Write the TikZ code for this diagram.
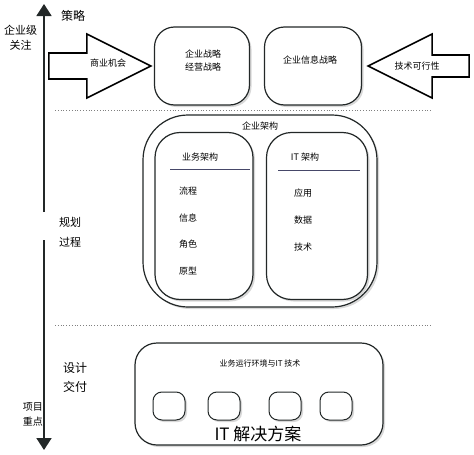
\documentclass[tikz,border=0pt]{standalone}
\usepackage{fontspec}
\setmainfont{Noto Sans CJK SC}
\usetikzlibrary{positioning}
\usetikzlibrary{arrows.meta}
\usetikzlibrary{shadows}
\definecolor{inkgray}{RGB}{35,40,40}
\definecolor{rulecolor}{RGB}{70,72,105}
\tikzset{roundbox/.style={draw=inkgray, line width=1.2pt, fill=white, rounded corners=#1, drop shadow={opacity=.3, shadow xshift=2pt, shadow yshift=-2pt}}, roundbox/.default=20pt}
\tikzset{blockarrow/.style={draw=black, line width=1.6pt, fill=white, line join=miter}}
\tikzset{note/.style={font=\fontsize{9}{13}\selectfont, align=center, inner sep=1pt}}
\tikzset{side/.style={align=center, inner sep=0pt}}
\tikzset{level/.style={dotted, gray, line width=.8pt}}
\tikzset{rule/.style={rulecolor, line width=1pt}}
\tikzset{axis/.style={-{Triangle[width=15pt,length=12pt]}, inkgray, line width=1.8pt}}

\begin{document}
\begin{tikzpicture}[x=1pt, y=-1pt]
\useasboundingbox (0,0) rectangle (474,455);

\coordinate (axtop) at (44,4);
\coordinate (axgapa) at (44,212);
\coordinate (axgapb) at (44,240);
\coordinate (axbot) at (44,450);
\draw[axis] (axgapa) -- (axtop);
\draw[axis] (axgapb) -- (axbot);

\node[side, font=\fontsize{12}{12}\selectfont] (strategy) at (73,16) {策略};
\node[side, font=\fontsize{11}{15}\selectfont, anchor=north west] (enterprise) at (4,25) {企业级\\关注};
\node[side, font=\fontsize{11}{20}\selectfont] (planning) at (70,232) {规划\\过程};
\node[side, font=\fontsize{12}{19}\selectfont] (delivery) at (75,377) {设计\\交付};
\node[side, font=\fontsize{10}{15}\selectfont] (project) at (33,414) {项目\\重点};

\draw[level] (55,110) -- (432,110);
\draw[level] (55,325) -- (432,325);

\node[roundbox, minimum width=95pt, minimum height=78pt] (strat) at (202,66) {};
\node[note] (strattext) at (203,61) {企业战略\\经营战略};
\node[roundbox, minimum width=97pt, minimum height=78pt] (infostrat) at (313,66) {};
\node[note] (infotext) at (310,60) {企业信息战略};

\draw[blockarrow] ([xshift=-3pt]strat.west) -- ++(-64,-32) -- ++(0,19) -- ++(-38,0) -- ++(0,26) -- ++(38,0) -- ++(0,19) -- cycle;
\node[note] (biz) at (108,63) {商业机会};
\draw[blockarrow] ([xshift=6pt]infostrat.east) -- ++(64,-32) -- ++(0,21) -- ++(37,0) -- ++(0,22) -- ++(-37,0) -- ++(0,21) -- cycle;
\node[note] (tech) at (417,66) {技术可行性};

\node[roundbox=45pt, minimum width=234pt, minimum height=192pt] (ea) at (260,211) {};
\node[note, below=6pt of ea.north] (eatitle) {企业架构};
\node[roundbox=25pt, minimum width=98pt, minimum height=167pt] (ba) at (204,216) {};
\node[roundbox=25pt, minimum width=101pt, minimum height=167pt] (ita) at (317,216) {};
\node[note] (batitle) at (200,157) {业务架构};
\node[note] (ittitle) at (305,157) {IT 架构};
\draw[rule] (170,169) -- (250,169);
\draw[rule] (278,170) -- (360,170);
\foreach \t [count=\i] in {流程,信息,角色,原型}
  \node[note] (baitem\i) at (188,165+26.5*\i) {\t};
\foreach \t [count=\i] in {应用,数据,技术}
  \node[note] (ititem\i) at (303,166+27*\i) {\t};

\node[roundbox=22pt, minimum width=248pt, minimum height=102pt] (env) at (259,394) {};
\node[note, font=\fontsize{8}{10}\selectfont] (envtitle) at (260,363) {业务运行环境与IT 技术};
\foreach \x [count=\i] in {169,224,285,336}
  \node[roundbox=9pt, line width=1pt, minimum width=32pt, minimum height=28pt] (sol\i) at (\x,406) {};
\node[font=\fontsize{17}{17}\selectfont, inner sep=0pt] (itsol) at (258,434) {IT 解决方案};
\end{tikzpicture}
\end{document}
